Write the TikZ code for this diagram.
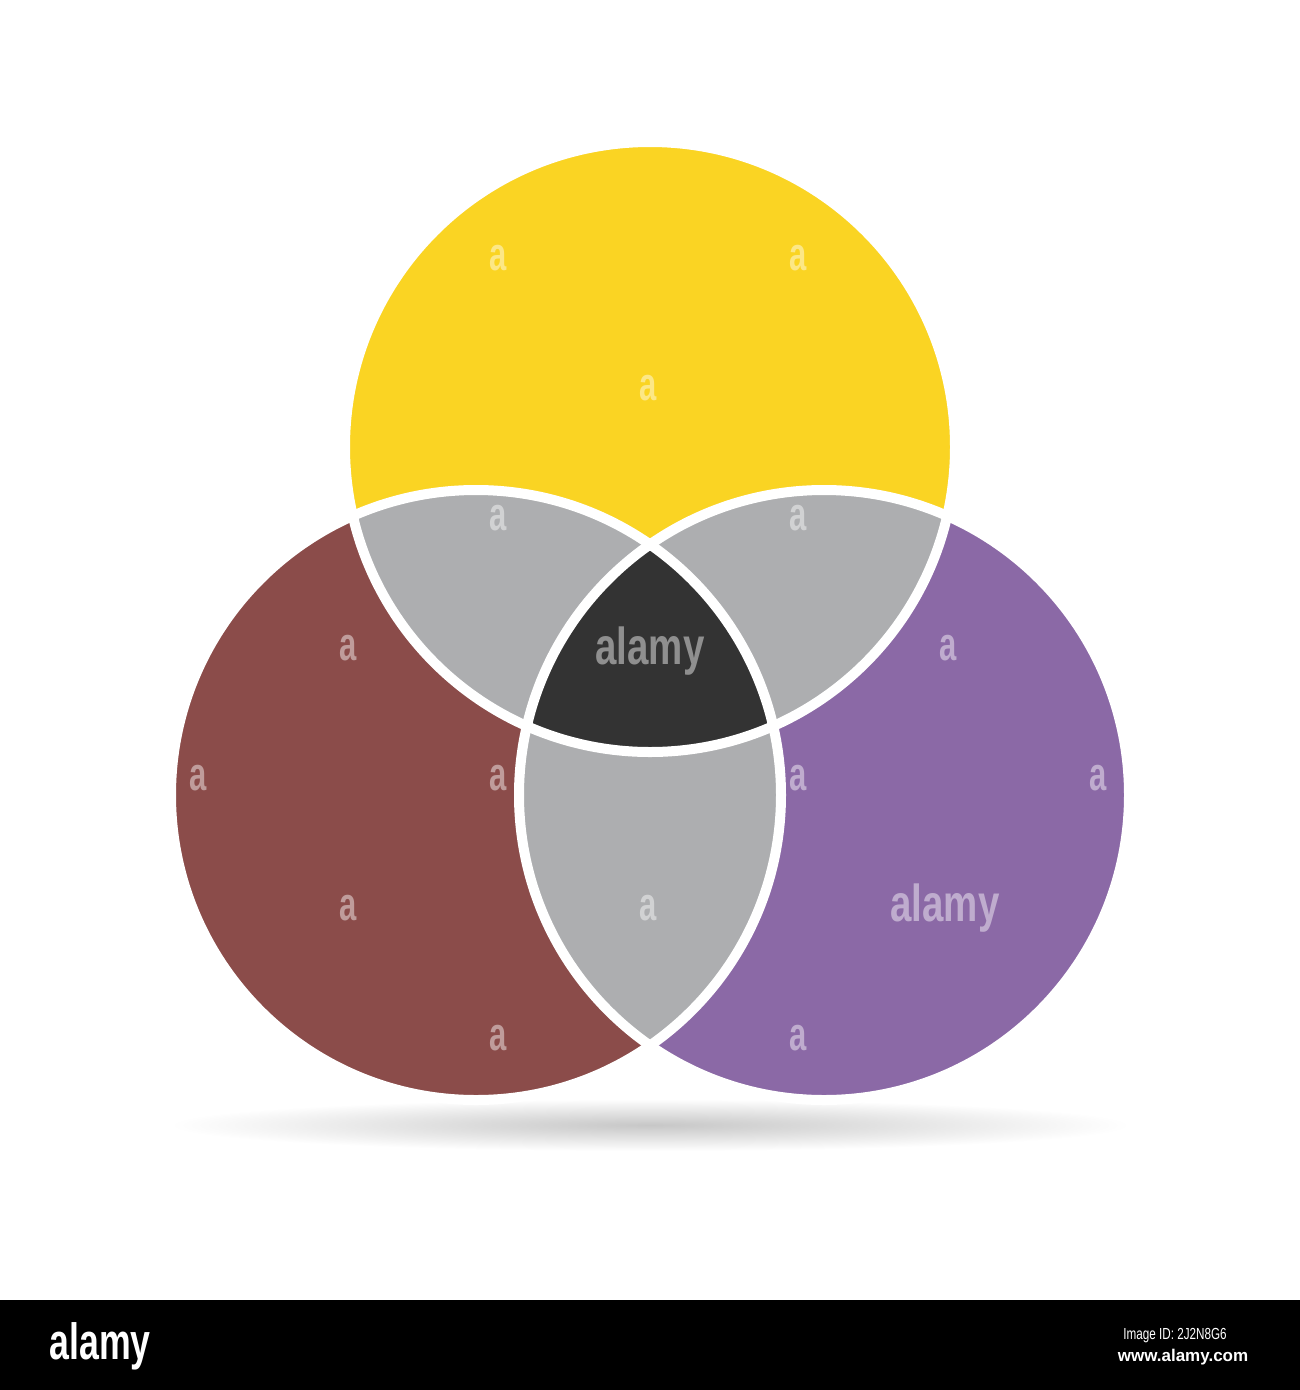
\documentclass[tikz,border=0pt]{standalone}
\usepackage{fontspec}
\setmainfont{Liberation Sans}
\definecolor{cyel}{HTML}{FAD423}
\definecolor{cbrn}{HTML}{8B4C4A}
\definecolor{cpur}{HTML}{8B69A6}
\definecolor{cgry}{HTML}{ADAEB0}
\definecolor{cdrk}{HTML}{333333}
\begin{document}
\begin{tikzpicture}[x=1pt,y=-1pt,
  wm/.style={text=white,text opacity=0.45,font=\bfseries\fontsize{47}{47}\selectfont,xscale=0.66,inner sep=0},
  wlogo/.style={text=white,text opacity=0.45,font=\bfseries\fontsize{52}{52}\selectfont,xscale=0.74,inner sep=0},
  ring/.style={draw=white,line width=10pt},
  bartext/.style={text=white,inner sep=0}]
\useasboundingbox[fill=white] (0,0) rectangle (1300,1390);
\coordinate (t) at (650,447);
\coordinate (l) at (476,795);
\coordinate (r) at (824,795);
\coordinate (sh) at (650,1125);
% shadow
\shade[inner color=black!22,outer color=white] (sh) ellipse[x radius=480pt,y radius=26pt];
% base fills
\fill[cyel] (t) circle[radius=305pt];
\fill[cbrn] (l) circle[radius=305pt];
\fill[cpur] (r) circle[radius=305pt];
% pairwise intersections
\begin{scope}
  \clip (t) circle[radius=305pt];
  \fill[cgry] (l) circle[radius=305pt];
  \fill[cgry] (r) circle[radius=305pt];
\end{scope}
\begin{scope}
  \clip (l) circle[radius=305pt];
  \fill[cgry] (r) circle[radius=305pt];
  \clip (r) circle[radius=305pt];
  \fill[cdrk] (t) circle[radius=305pt];
\end{scope}
% white rings
\draw[ring] (t) circle[radius=305pt];
\draw[ring] (l) circle[radius=305pt];
\draw[ring] (r) circle[radius=305pt];
% watermarks
\foreach \px/\py [count=\i] in {498/258,798/258,648/388,498/518,798/518,348/648,948/648,198/778,498/778,798/778,1098/778,348/908,648/908,498/1038,798/1038}
  \node[wm] (wa\i) at (\px,\py) {a};
\node[wlogo] (wlc) at (650,651) {alamy};
\node[wlogo] (wlp) at (945,908) {alamy};
% bottom bar
\fill[black] (0,1300) rectangle (1300,1390);
\node[bartext,font=\bfseries\fontsize{51}{51}\selectfont,xscale=0.70] (logo) at (100,1346) {alamy};
\node[bartext,font=\fontsize{16}{16}\selectfont,xscale=0.73,anchor=base] (imgid) at (1175,1339) {Image ID: 2J2N8G6};
\node[bartext,font=\bfseries\fontsize{17}{17}\selectfont,anchor=base] (www) at (1183,1361) {www.alamy.com};
\end{tikzpicture}
\end{document}
